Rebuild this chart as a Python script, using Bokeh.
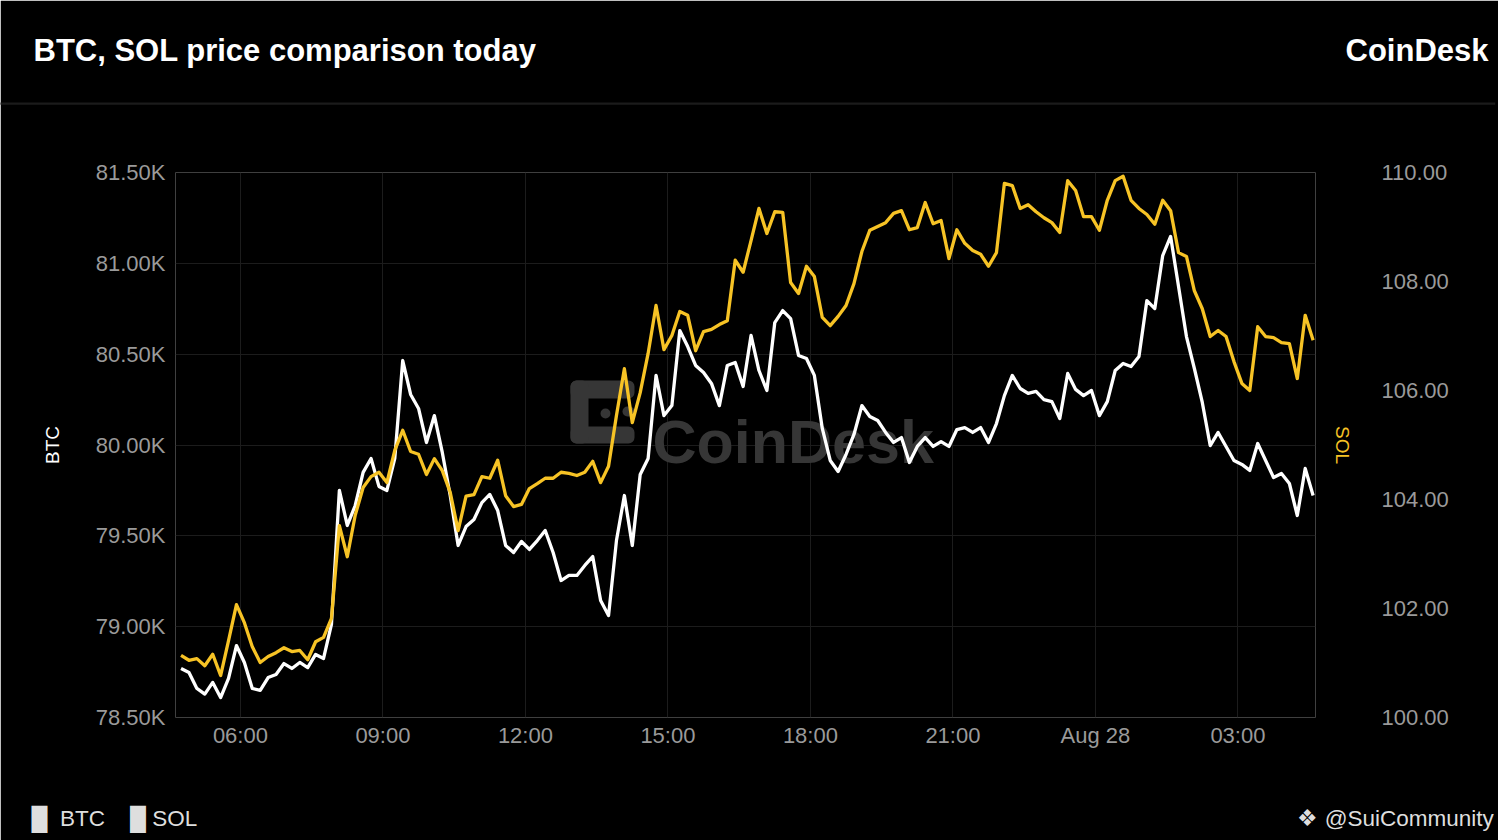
import pandas as pd
from bokeh.plotting import figure
from bokeh.models import (ColumnDataSource, Range1d, LinearAxis, FixedTicker, Title,
                          PrintfTickFormatter, Label, BoxAnnotation)
from bokeh.embed import file_html
from bokeh.resources import INLINE

# ---------------- data ----------------
times = pd.date_range("2024-08-27 04:45", periods=144, freq="10min")

btc_k = [78.770, 78.748, 78.660, 78.629, 78.693, 78.610, 78.715, 78.896, 78.803, 78.660,
         78.649, 78.720, 78.737, 78.797, 78.770, 78.803, 78.775, 78.847, 78.825, 79.012,
         79.750, 79.557, 79.667, 79.849, 79.926, 79.772, 79.750, 79.926, 80.465, 80.278,
         80.201, 80.014, 80.162, 79.959, 79.722, 79.447, 79.551, 79.590, 79.683, 79.728,
         79.639, 79.447, 79.408, 79.469, 79.425, 79.474, 79.529, 79.408, 79.254, 79.282,
         79.282, 79.337, 79.386, 79.144, 79.061, 79.474, 79.722, 79.447, 79.838, 79.926,
         80.383, 80.162, 80.217, 80.630, 80.542, 80.438, 80.399, 80.339, 80.217, 80.438,
         80.454, 80.322, 80.603, 80.410, 80.300, 80.674, 80.740, 80.696, 80.493, 80.476,
         80.383, 80.091, 79.915, 79.854, 79.948, 80.058, 80.217, 80.157, 80.135, 80.069,
         80.014, 80.041, 79.904, 79.992, 80.041, 79.992, 80.019, 79.992, 80.085, 80.096,
         80.069, 80.096, 80.014, 80.118, 80.272, 80.383, 80.311, 80.284, 80.295, 80.250,
         80.239, 80.146, 80.394, 80.306, 80.272, 80.300, 80.162, 80.239, 80.410, 80.449,
         80.432, 80.487, 80.795, 80.751, 81.043, 81.148, 80.872, 80.597, 80.421, 80.234,
         79.997, 80.069, 79.992, 79.915, 79.893, 79.860, 80.008, 79.915, 79.821, 79.843,
         79.788, 79.612, 79.871, 79.722]

sol = [101.14, 101.05, 101.08, 100.95, 101.16, 100.77, 101.41, 102.07, 101.74, 101.30,
       101.01, 101.12, 101.19, 101.28, 101.21, 101.23, 101.06, 101.39, 101.47, 101.82,
       103.52, 102.95, 103.71, 104.22, 104.42, 104.50, 104.31, 104.90, 105.27, 104.88,
       104.83, 104.46, 104.75, 104.53, 104.13, 103.43, 104.06, 104.09, 104.42, 104.39,
       104.72, 104.07, 103.87, 103.91, 104.20, 104.29, 104.39, 104.39, 104.50, 104.48,
       104.44, 104.50, 104.70, 104.31, 104.61, 105.54, 106.40, 105.41, 105.96, 106.68,
       107.56, 106.75, 107.01, 107.45, 107.38, 106.73, 107.08, 107.12, 107.21, 107.28,
       108.39, 108.17, 108.75, 109.34, 108.88, 109.28, 109.27, 107.98, 107.78, 108.28,
       108.09, 107.34, 107.19, 107.36, 107.56, 107.96, 108.55, 108.94, 109.01, 109.08,
       109.25, 109.30, 108.95, 108.99, 109.45, 109.06, 109.12, 108.42, 108.95, 108.70,
       108.57, 108.50, 108.28, 108.53, 109.80, 109.76, 109.34, 109.41, 109.28, 109.17,
       109.08, 108.90, 109.85, 109.67, 109.19, 109.19, 108.94, 109.49, 109.85, 109.93,
       109.49, 109.34, 109.23, 109.05, 109.49, 109.30, 108.53, 108.46, 107.83, 107.50,
       106.99, 107.10, 106.99, 106.53, 106.13, 106.00, 107.17, 106.99, 106.97, 106.88,
       106.86, 106.22, 107.38, 106.92]

x_tick_times = ["2024-08-27 06:00", "2024-08-27 09:00", "2024-08-27 12:00", "2024-08-27 15:00",
                "2024-08-27 18:00", "2024-08-27 21:00", "2024-08-28 00:00", "2024-08-28 03:00"]
x_tick_labels = ["06:00", "09:00", "12:00", "15:00", "18:00", "21:00", "Aug 28", "03:00"]
btc_ticks = [78.5, 79.0, 79.5, 80.0, 80.5, 81.0, 81.5]
sol_ticks = [100, 102, 104, 106, 108, 110]
series_names = ["BTC", "SOL"]

# ---------------- layout constants ----------------
FONT = "Liberation Sans"
W, H = 1498, 840
FL, FR, FT, FB = 175, 1315, 172, 717            # plot frame in page pixels
YELLOW = "#f7c325"
GRID = "#1c1c1c"
TICKC = "#9a9a9a"
BG = "#000000"
NBSP = "\u00a0"
BLOCK = "\u2588"


def ms(s):
    return pd.Timestamp(s).value / 1e6


def sx(px):   # page pixel -> frame screen units
    return px - FL


def sy(py):
    return FB - py


src = ColumnDataSource(dict(t=times, btc=btc_k, sol=sol))

p = figure(width=W, height=H, x_axis_type="datetime", title=None,
           x_range=Range1d(ms("2024-08-27 04:38"), ms("2024-08-28 04:38")),
           y_range=Range1d(btc_ticks[0], btc_ticks[-1]),
           output_backend="svg", toolbar_location=None,
           min_border_left=FL, min_border_right=W - FR,
           min_border_top=FT, min_border_bottom=H - FB,
           background_fill_color=BG, border_fill_color=BG, outline_line_color=None)
p.extra_y_ranges = {"sol": Range1d(sol_ticks[0], sol_ticks[-1])}

xt = [ms(s) for s in x_tick_times]
p.xgrid.ticker = FixedTicker(ticks=xt)
p.ygrid.ticker = FixedTicker(ticks=btc_ticks)
p.grid.grid_line_color = GRID
p.grid.grid_line_width = 1


def style_axis(ax):
    ax.axis_line_color = None
    ax.major_tick_line_color = None
    ax.minor_tick_line_color = None
    ax.major_tick_out = 0
    ax.major_tick_in = 0
    ax.minor_tick_out = 0
    ax.minor_tick_in = 0
    ax.major_label_text_font = FONT
    ax.major_label_text_font_size = "22px"
    ax.major_label_text_color = TICKC
    ax.axis_label_text_font = FONT
    ax.axis_label_text_font_style = "normal"
    ax.axis_label_text_font_size = "19px"


xa = p.xaxis[0]
style_axis(xa)
xa.ticker = FixedTicker(ticks=xt)
xa.major_label_overrides = {t: l for t, l in zip(xt, x_tick_labels)}
xa.major_label_standoff = 5

ya = p.yaxis[0]
style_axis(ya)
ya.ticker = FixedTicker(ticks=btc_ticks)
ya.formatter = PrintfTickFormatter(format="%.2fK")
ya.major_label_standoff = 10
ya.axis_label = series_names[0]
ya.axis_label_text_color = "#ffffff"
ya.axis_label_standoff = 30

sol_name_axis = LinearAxis(y_range_name="sol", ticker=FixedTicker(ticks=[]),
                           axis_label=series_names[1])
style_axis(sol_name_axis)
sol_name_axis.major_label_standoff = 0
sol_name_axis.axis_label_standoff = 16
sol_name_axis.axis_label_text_color = YELLOW
p.add_layout(sol_name_axis, "right")

sol_axis = LinearAxis(y_range_name="sol", ticker=FixedTicker(ticks=sol_ticks),
                      formatter=PrintfTickFormatter(format="%.2f"))
style_axis(sol_axis)
sol_axis.major_label_standoff = 26
p.add_layout(sol_axis, "right")

# ---------------- watermark under the lines ----------------
WM = "#363636"
for (l, t, r, b) in [(570, 380, 634, 398), (570, 426, 634, 443), (570, 380, 588, 443),
                     (600, 408, 610, 418), (622, 406, 634, 416)]:
    p.add_layout(BoxAnnotation(left=sx(l), right=sx(r), top=sy(t), bottom=sy(b),
                               left_units="screen", right_units="screen",
                               top_units="screen", bottom_units="screen",
                               fill_color=WM, fill_alpha=1, line_color=None,
                               border_radius=6, level="underlay"))
p.add_layout(Label(x=sx(652), y=sy(441), x_units="screen", y_units="screen",
                   text="CoinDesk", text_font=FONT, text_font_size="61px",
                   text_font_style="bold", text_color=WM, text_baseline="alphabetic",
                   level="underlay"))

# ---------------- price lines ----------------
p.line(x="t", y="btc", source=src, line_color="#ffffff", line_width=3.3, line_join="round")
p.line(x="t", y="sol", source=src, y_range_name="sol", line_color=YELLOW,
       line_width=3.3, line_join="round")

# ---------------- header: titles stacked above the frame (nearest first) ----------------
p.add_layout(Title(text=NBSP, text_font=FONT, text_font_size="10px", standoff=53,
                   align="left", vertical_align="top"), "above")
p.add_layout(Title(text=NBSP * 2690, text_font=FONT, text_font_size="2px", standoff=0,
                   align="left", offset=-FL, vertical_align="top",
                   background_fill_color="#1b1b1b", background_fill_alpha=1), "above")
head_text = "BTC, SOL price comparison today" + NBSP * 94 + "CoinDesk"
p.add_layout(Title(text=head_text, text_font=FONT, text_font_size="31px",
                   text_font_style="bold", text_color="#ffffff", align="left",
                   offset=-142, standoff=65, vertical_align="top"), "above")

# ---------------- footer: legend keys + credit below the time axis ----------------
p.add_layout(Title(text=NBSP, text_font=FONT, text_font_size="10px", standoff=42,
                   align="left", vertical_align="top"), "below")
foot_text = (BLOCK + NBSP * 2 + series_names[0] + NBSP * 4 + BLOCK + NBSP + series_names[1]
             + NBSP * 176 + "\u2756" + NBSP + "@SuiCommunity")
p.add_layout(Title(text=foot_text, text_font=FONT, text_font_size="22.5px",
                   text_font_style="normal", text_color="#dedede", align="left",
                   offset=31 - FL, standoff=0, vertical_align="top"), "below")

html = file_html(p, INLINE, title="BTC, SOL price comparison today")
html = html.replace("<body>", "<body style=\"background-color:#000000;\">", 1)
open("out.html", "w").write(html)
